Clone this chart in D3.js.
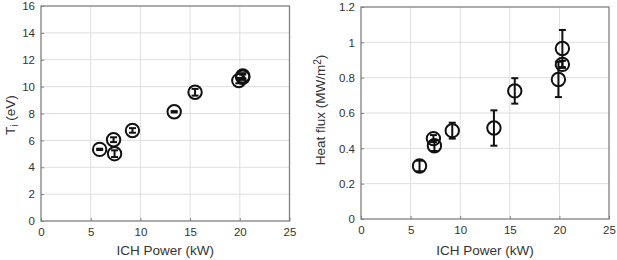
<!DOCTYPE html>
<html>
<head>
<meta charset="utf-8">
<script src="https://cdn.jsdelivr.net/npm/d3@7"></script>
<style>
  body { margin: 0; background: #fff; }
  svg text { font-family: "Liberation Sans", Arial, sans-serif; fill: #333; }
</style>
</head>
<body>
<div id="chart"></div>
<script>
// ICH power (kW) for each shot, shared by both panels
const power = [5.9, 7.3, 7.4, 9.2, 13.4, 15.5, 19.9, 20.3, 20.3];
// Ion temperature (eV) and its error
const ionTemp = [5.33, 6.05, 5.01, 6.74, 8.13, 9.58, 10.45, 10.7, 10.8];
const ionTempErr = [0.05, 0.18, 0.25, 0.17, 0.05, 0.25, 0.2, 0.2, 0.2];
// Heat flux (MW/m^2) and its error
const heatFlux = [0.30, 0.455, 0.415, 0.50, 0.515, 0.725, 0.79, 0.875, 0.965];
const heatFluxErr = [0.03, 0.02, 0.03, 0.045, 0.10, 0.072, 0.10, 0.02, 0.105];

const xTicks = [0, 5, 10, 15, 20, 25];
const tiTicks = [0, 2, 4, 6, 8, 10, 12, 14, 16];
const hfTicks = [0, 0.2, 0.4, 0.6, 0.8, 1, 1.2];

const svg = d3.select("#chart")
  .append("svg")
  .attr("width", 617)
  .attr("height", 260);

function drawPanel(opts) {
  const { left, top, width, height, yMax, yTicks, yVals, yErr } = opts;

  const g = svg.append("g")
    .attr("transform", `translate(${left},${top})`);

  const x = d3.scaleLinear().domain([0, 25]).range([0, width]);
  const y = d3.scaleLinear().domain([0, yMax]).range([height, 0]);

  // Grid lines
  g.append("g")
    .selectAll("line")
    .data(xTicks.slice(1, -1))
    .enter()
    .append("line")
    .attr("x1", d => x(d)).attr("x2", d => x(d))
    .attr("y1", 0).attr("y2", height)
    .attr("stroke", "#dedede");

  g.append("g")
    .selectAll("line")
    .data(yTicks.slice(1, -1))
    .enter()
    .append("line")
    .attr("x1", 0).attr("x2", width)
    .attr("y1", d => y(d)).attr("y2", d => y(d))
    .attr("stroke", "#dedede");

  // Axes with inward ticks
  const xAxis = g.append("g")
    .attr("transform", `translate(0,${height})`)
    .call(d3.axisBottom(x).tickValues(xTicks).tickSizeInner(-3).tickSizeOuter(0).tickPadding(7));
  const yAxis = g.append("g")
    .call(d3.axisLeft(y).tickValues(yTicks).tickSizeInner(-3).tickSizeOuter(0).tickPadding(6)
      .tickFormat(d3.format("~g")));

  [xAxis, yAxis].forEach(a => {
    a.select(".domain").remove();
    a.selectAll("line").attr("stroke", "#808080");
    a.selectAll("text").style("font-size", "11.5px").attr("fill", "#2a2a2a");
  });

  // Box
  g.append("rect")
    .attr("width", width)
    .attr("height", height)
    .attr("fill", "none")
    .attr("stroke", "#808080")
    .attr("stroke-width", 1.3);

  const pts = power.map((p, i) => ({ p, v: yVals[i], e: yErr[i] }));

  // Circle markers
  g.selectAll(".marker")
    .data(pts)
    .enter()
    .append("circle")
    .attr("class", "marker")
    .attr("cx", d => x(d.p))
    .attr("cy", d => y(d.v))
    .attr("r", 6.7)
    .attr("fill", "none")
    .attr("stroke", "#111")
    .attr("stroke-width", 2);

  // Error bars with caps
  const cap = 3.5;
  const eb = g.selectAll(".err")
    .data(pts)
    .enter()
    .append("g")
    .attr("class", "err")
    .attr("stroke", "#111")
    .attr("stroke-width", 2);
  eb.append("line")
    .attr("x1", d => x(d.p)).attr("x2", d => x(d.p))
    .attr("y1", d => y(d.v - d.e)).attr("y2", d => y(d.v + d.e));
  eb.append("line")
    .attr("x1", d => x(d.p) - cap).attr("x2", d => x(d.p) + cap)
    .attr("y1", d => y(d.v + d.e)).attr("y2", d => y(d.v + d.e));
  eb.append("line")
    .attr("x1", d => x(d.p) - cap).attr("x2", d => x(d.p) + cap)
    .attr("y1", d => y(d.v - d.e)).attr("y2", d => y(d.v - d.e));

  // X label
  g.append("text")
    .attr("x", width / 2)
    .attr("y", 255 - top)
    .attr("text-anchor", "middle")
    .style("font-size", "13.5px")
    .text("ICH Power (kW)");

  return g;
}

const gl = drawPanel({
  left: 41, top: 6, width: 248.5, height: 215,
  yMax: 16, yTicks: tiTicks, yVals: ionTemp, yErr: ionTempErr
});

gl.append("text")
  .attr("transform", "rotate(-90)")
  .attr("x", -109)
  .attr("y", -26)
  .attr("text-anchor", "middle")
  .style("font-size", "13.5px")
  .html('T<tspan dy="3" font-size="10px">i</tspan><tspan dy="-3"> (eV)</tspan>');

const gr = drawPanel({
  left: 361, top: 7, width: 248, height: 212,
  yMax: 1.2, yTicks: hfTicks, yVals: heatFlux, yErr: heatFluxErr
});

gr.append("text")
  .attr("transform", "rotate(-90)")
  .attr("x", -103)
  .attr("y", -36)
  .attr("text-anchor", "middle")
  .style("font-size", "13.5px")
  .html('Heat flux (MW/m<tspan dy="-4" font-size="10px">2</tspan><tspan dy="4">)</tspan>');
</script>
</body>
</html>
